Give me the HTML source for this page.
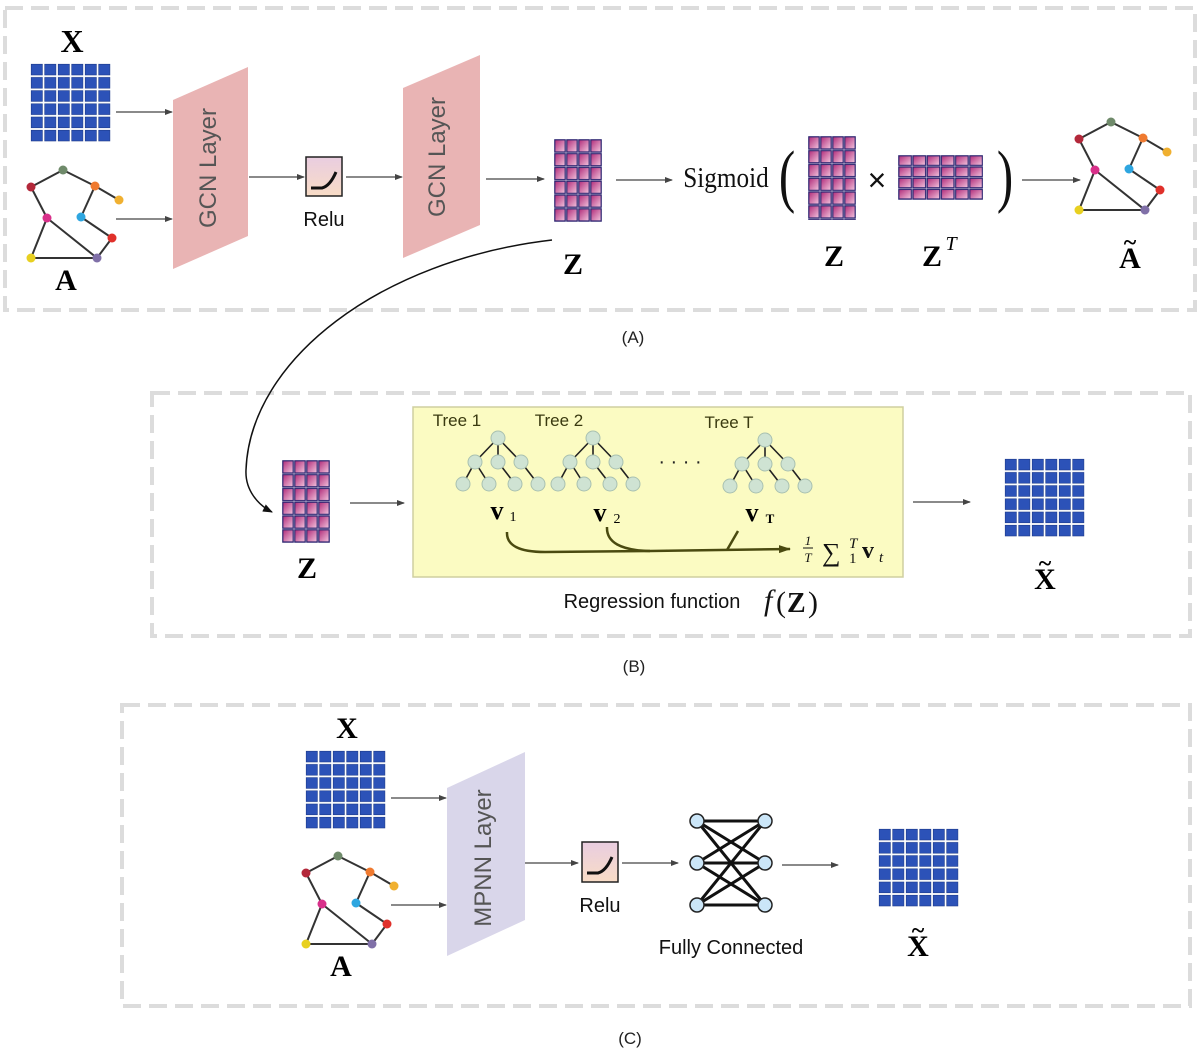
<!DOCTYPE html>
<html><head><meta charset="utf-8"><style>
html,body{margin:0;padding:0;background:#fff;}
svg{display:block;}
text{font-family:"Liberation Sans",sans-serif;}
text.serif{font-family:"Liberation Serif",serif;font-weight:bold;}
text.rs{font-family:"Liberation Serif",serif;}
text.it{font-family:"Liberation Serif",serif;font-style:italic;}
</style></head><body>
<svg width="1200" height="1048" viewBox="0 0 1200 1048" xmlns="http://www.w3.org/2000/svg">
<defs>
<linearGradient id="pg" x1="0" y1="0" x2="1" y2="1"><stop offset="0" stop-color="#b02a78"/><stop offset="1" stop-color="#f3c6df"/></linearGradient>
<linearGradient id="rg" x1="0" y1="0" x2="0" y2="1"><stop offset="0" stop-color="#e9cde0"/><stop offset="1" stop-color="#f8dcc6"/></linearGradient>
<pattern id="blue" patternUnits="userSpaceOnUse" width="13.5" height="13.2"><rect width="13.5" height="13.2" fill="#fff"/><rect x="1.2" y="1.2" width="11.2" height="10.8" fill="#2c52b8" stroke="#1d3a8a" stroke-width="0.6"/></pattern>
<pattern id="pink" patternUnits="userSpaceOnUse" width="12" height="13.8"><rect width="12" height="13.8" fill="#fff"/><rect x="0.8" y="0.8" width="10.4" height="12.2" fill="url(#pg)" stroke="#2b2370" stroke-width="1.2"/></pattern>
<pattern id="pinkT" patternUnits="userSpaceOnUse" width="14.2" height="11.2"><rect width="14.2" height="11.2" fill="#fff"/><rect x="0.8" y="0.8" width="12.6" height="9.6" fill="url(#pg)" stroke="#2b2370" stroke-width="1.2"/></pattern>
<marker id="ah" markerWidth="8" markerHeight="8" refX="7" refY="4" orient="auto" markerUnits="userSpaceOnUse"><path d="M0,1 L8,4 L0,7 z" fill="#444"/></marker>
<marker id="ahk" markerWidth="10" markerHeight="10" refX="9" refY="5" orient="auto" markerUnits="userSpaceOnUse"><path d="M0,1 L10,5 L0,9 z" fill="#111"/></marker>
<marker id="aho" markerWidth="12" markerHeight="10" refX="11" refY="5" orient="auto" markerUnits="userSpaceOnUse"><path d="M0,1 L12,5 L0,9 z" fill="#4a4a10"/></marker>
<g id="graph" stroke="#333" stroke-width="2">
<line x1="0" y1="17" x2="32" y2="0"/><line x1="32" y1="0" x2="64" y2="16"/><line x1="64" y1="16" x2="88" y2="30"/><line x1="64" y1="16" x2="50" y2="47"/><line x1="50" y1="47" x2="81" y2="68"/><line x1="81" y1="68" x2="66" y2="88"/><line x1="0" y1="17" x2="16" y2="48"/><line x1="16" y1="48" x2="0" y2="88"/><line x1="16" y1="48" x2="66" y2="88"/><line x1="0" y1="88" x2="66" y2="88"/>
<g stroke="none">
<circle cx="32" cy="0" r="4.5" fill="#6f8a6a"/><circle cx="0" cy="17" r="4.5" fill="#b3283a"/><circle cx="64" cy="16" r="4.5" fill="#ef7a30"/><circle cx="88" cy="30" r="4.5" fill="#f0b030"/><circle cx="16" cy="48" r="4.5" fill="#d8308a"/><circle cx="50" cy="47" r="4.5" fill="#2ea6e0"/><circle cx="81" cy="68" r="4.5" fill="#e0302a"/><circle cx="0" cy="88" r="4.5" fill="#e8d020"/><circle cx="66" cy="88" r="4.5" fill="#8070a8"/></g>
</g>
<g id="tree" stroke="#222" stroke-width="1.6" >
<line x1="0" y1="0" x2="-23" y2="24"/><line x1="0" y1="0" x2="0" y2="24"/><line x1="0" y1="0" x2="23" y2="24"/>
<line x1="-23" y1="24" x2="-35" y2="46"/><line x1="-23" y1="24" x2="-9" y2="46"/><line x1="0" y1="24" x2="17" y2="46"/><line x1="23" y1="24" x2="40" y2="46"/>
<g fill="#cfe3d3" stroke="#a8c0b0" stroke-width="1">
<circle cx="0" cy="0" r="7"/><circle cx="-23" cy="24" r="7"/><circle cx="0" cy="24" r="7"/><circle cx="23" cy="24" r="7"/>
<circle cx="-35" cy="46" r="7"/><circle cx="-9" cy="46" r="7"/><circle cx="17" cy="46" r="7"/><circle cx="40" cy="46" r="7"/></g>
</g>
</defs>

<g fill="none" stroke="#dcdcdc" stroke-width="4" stroke-dasharray="18,8">
<rect x="5" y="8" width="1190" height="302"/>
<rect x="152" y="393" width="1038" height="243"/>
<rect x="122" y="705" width="1068" height="301"/>
</g>
<text x="633" y="343" font-size="17" text-anchor="middle" fill="#222">(A)</text>
<text x="634" y="672" font-size="17" text-anchor="middle" fill="#222">(B)</text>
<text x="630" y="1044" font-size="17" text-anchor="middle" fill="#222">(C)</text>

<!-- Section A -->
<text x="72" y="52" class="serif" font-size="32" text-anchor="middle">X</text>
<g transform="translate(30,63)"><rect width="81" height="79" fill="url(#blue)"/></g>
<use href="#graph" transform="translate(31,170)"/>
<text x="66" y="290" class="serif" font-size="30" text-anchor="middle">A</text>
<g stroke="#444" stroke-width="1.2" marker-end="url(#ah)">
<line x1="116" y1="112" x2="172" y2="112"/><line x1="116" y1="219" x2="172" y2="219"/>
<line x1="249" y1="177" x2="304" y2="177"/><line x1="346" y1="177" x2="402" y2="177"/>
<line x1="486" y1="179" x2="544" y2="179"/><line x1="616" y1="180" x2="672" y2="180"/>
<line x1="1022" y1="180" x2="1080" y2="180"/>
</g>
<polygon points="173,100 248,67 248,236 173,269" fill="#e9b4b4"/>
<text transform="translate(216,168) rotate(-90)" font-size="24" fill="#555" text-anchor="middle">GCN Layer</text>
<rect x="306" y="157" width="36" height="39" fill="url(#rg)" stroke="#222" stroke-width="1.5"/>
<path d="M311,188 L322,188 Q330,186 336,172" fill="none" stroke="#111" stroke-width="3"/>
<text x="324" y="226" font-size="20" text-anchor="middle" fill="#111">Relu</text>
<polygon points="403,88 480,55 480,225 403,258" fill="#e9b4b4"/>
<text transform="translate(445,157) rotate(-90)" font-size="24" fill="#555" text-anchor="middle">GCN Layer</text>
<g transform="translate(554,139)"><rect width="48" height="83" fill="url(#pink)"/></g>
<text x="573" y="274" class="serif" font-size="30" text-anchor="middle">Z</text>
<text x="726" y="187" class="rs" font-size="28" text-anchor="middle" fill="#111" transform="translate(726,178) scale(0.9,1) translate(-726,-178)">Sigmoid</text>
<text x="787" y="199" class="rs" font-size="70" text-anchor="middle" fill="#111" transform="translate(787,178) scale(0.7,1) translate(-787,-178)">(</text>
<text x="1005" y="199" class="rs" font-size="70" text-anchor="middle" fill="#111" transform="translate(1005,178) scale(0.7,1) translate(-1005,-178)">)</text>
<g transform="translate(808,136)"><rect width="48" height="84" fill="url(#pink)"/></g>
<text x="877" y="191" font-size="32" text-anchor="middle" fill="#111">×</text>
<g transform="translate(898,155)"><rect width="85" height="45" fill="url(#pinkT)"/></g>
<text x="834" y="266" class="serif" font-size="30" text-anchor="middle">Z</text>
<text x="932" y="266" class="serif" font-size="30" text-anchor="middle">Z</text>
<text x="951" y="250" class="it" font-size="20" text-anchor="middle">T</text>
<use href="#graph" transform="translate(1079,122)"/>
<text x="1130" y="268" class="serif" font-size="30" text-anchor="middle">A</text>
<text x="1130" y="250" class="serif" font-size="24" text-anchor="middle">~</text>

<path d="M552,240 C380,260 250,360 246,470 C245,490 258,505 272,512" fill="none" stroke="#111" stroke-width="1.5" marker-end="url(#ahk)"/>

<!-- Section B -->
<g transform="translate(282,460)"><rect width="48" height="83" fill="url(#pink)"/></g>
<text x="307" y="578" class="serif" font-size="30" text-anchor="middle">Z</text>
<g stroke="#444" stroke-width="1.2" marker-end="url(#ah)">
<line x1="350" y1="503" x2="404" y2="503"/><line x1="913" y1="502" x2="970" y2="502"/>
</g>
<rect x="413" y="407" width="490" height="170" fill="#fbfbc2" stroke="#cfcfa0" stroke-width="1.5"/>
<text x="457" y="426" font-size="17" text-anchor="middle" fill="#3a3a10">Tree 1</text>
<text x="559" y="426" font-size="17" text-anchor="middle" fill="#3a3a10">Tree 2</text>
<text x="729" y="428" font-size="17" text-anchor="middle" fill="#3a3a10">Tree T</text>
<use href="#tree" transform="translate(498,438)"/>
<use href="#tree" transform="translate(593,438)"/>
<use href="#tree" transform="translate(765,440)"/>
<text x="680" y="468" font-size="20" text-anchor="middle" fill="#222">· · · ·</text>
<text x="497" y="519" class="serif" font-size="26" text-anchor="middle">v</text><text x="513" y="521" class="rs" font-size="14" text-anchor="middle">1</text>
<text x="600" y="521" class="serif" font-size="26" text-anchor="middle">v</text><text x="617" y="523" class="rs" font-size="14" text-anchor="middle">2</text>
<text x="752" y="521" class="serif" font-size="26" text-anchor="middle">v</text><text x="770" y="523" font-size="13" class="serif" text-anchor="middle">T</text>
<g fill="none" stroke="#4a4a10" stroke-width="2.5">
<path d="M507,532 Q506,552 545,552 L650,551 L790,549" marker-end="url(#aho)"/>
<path d="M607,527 Q606,550 650,551"/>
<path d="M738,531 L727,550"/>
</g>
<g fill="#111">
<text x="808" y="545" font-size="13" text-anchor="middle" class="it">1</text>
<line x1="803" y1="548" x2="813" y2="548" stroke="#111" stroke-width="1"/>
<text x="808" y="562" font-size="13" text-anchor="middle" class="it">T</text>
<text x="822" y="561" class="rs" font-size="26">∑</text>
<text x="849" y="548" class="it" font-size="15">T</text>
<text x="849" y="563" class="rs" font-size="15">1</text>
<text x="862" y="558" class="serif" font-size="24">v</text>
<text x="879" y="562" class="it" font-size="15">t</text>
</g>
<text x="652" y="608" font-size="20" text-anchor="middle" fill="#111">Regression function</text>
<text x="764" y="610" class="it" font-size="30" fill="#111">f</text>
<text x="776" y="612" class="rs" font-size="30" fill="#111">(</text>
<text x="787" y="612" class="serif" font-size="28" fill="#111">Z</text>
<text x="808" y="612" class="rs" font-size="30" fill="#111">)</text>
<g transform="translate(1004,458)"><rect width="81" height="79" fill="url(#blue)"/></g>
<text x="1045" y="589" class="serif" font-size="30" text-anchor="middle">X</text>
<text x="1045" y="571" class="serif" font-size="24" text-anchor="middle">~</text>

<!-- Section C -->
<text x="347" y="738" class="serif" font-size="30" text-anchor="middle">X</text>
<g transform="translate(305,750)"><rect width="81" height="79" fill="url(#blue)"/></g>
<use href="#graph" transform="translate(306,856)"/>
<text x="341" y="976" class="serif" font-size="30" text-anchor="middle">A</text>
<g stroke="#444" stroke-width="1.2" marker-end="url(#ah)">
<line x1="391" y1="798" x2="446" y2="798"/><line x1="391" y1="905" x2="446" y2="905"/>
<line x1="525" y1="863" x2="578" y2="863"/><line x1="622" y1="863" x2="678" y2="863"/>
<line x1="782" y1="865" x2="838" y2="865"/>
</g>
<polygon points="447,788 525,752 525,920 447,956" fill="#d9d6ea"/>
<text transform="translate(491,858) rotate(-90)" font-size="24" fill="#555" text-anchor="middle">MPNN Layer</text>
<rect x="582" y="842" width="36" height="40" fill="url(#rg)" stroke="#222" stroke-width="1.5"/>
<path d="M587,873 L598,873 Q606,871 612,857" fill="none" stroke="#111" stroke-width="3"/>
<text x="600" y="912" font-size="20" text-anchor="middle" fill="#111">Relu</text>
<g stroke="#111" stroke-width="3">
<line x1="697" y1="821" x2="765" y2="821"/><line x1="697" y1="821" x2="765" y2="863"/><line x1="697" y1="821" x2="765" y2="905"/>
<line x1="697" y1="863" x2="765" y2="821"/><line x1="697" y1="863" x2="765" y2="863"/><line x1="697" y1="863" x2="765" y2="905"/>
<line x1="697" y1="905" x2="765" y2="821"/><line x1="697" y1="905" x2="765" y2="863"/><line x1="697" y1="905" x2="765" y2="905"/>
</g>
<g fill="#cbe6f8" stroke="#222" stroke-width="1.5">
<circle cx="697" cy="821" r="7"/><circle cx="697" cy="863" r="7"/><circle cx="697" cy="905" r="7"/>
<circle cx="765" cy="821" r="7"/><circle cx="765" cy="863" r="7"/><circle cx="765" cy="905" r="7"/>
</g>
<text x="731" y="954" font-size="20" text-anchor="middle" fill="#111">Fully Connected</text>
<g transform="translate(878,828)"><rect width="81" height="79" fill="url(#blue)"/></g>
<text x="918" y="956" class="serif" font-size="30" text-anchor="middle">X</text>
<text x="918" y="938" class="serif" font-size="24" text-anchor="middle">~</text>
</svg>
</body></html>
